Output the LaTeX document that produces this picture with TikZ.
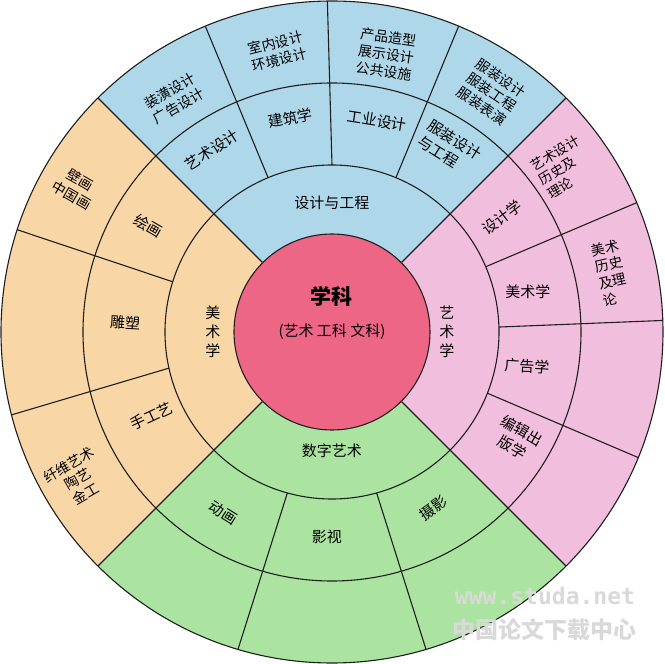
\documentclass[tikz,border=0pt]{standalone}
\usepackage{fontspec}
\newfontfamily\cjk{Noto Sans CJK SC}
\newfontfamily\wmono{DejaVu Sans Mono}
\definecolor{designblue}{RGB}{174,216,234}
\definecolor{fineorange}{RGB}{249,214,166}
\definecolor{artpink}{RGB}{242,190,222}
\definecolor{digitgreen}{RGB}{170,228,160}
\definecolor{corered}{RGB}{238,102,134}
\definecolor{inkline}{RGB}{30,30,30}
\begin{document}
\begin{tikzpicture}[x=1pt, y=1pt,
    ring/.style={inkline, line width=1.1pt},
    lbl/.style={font=\cjk\fontsize{14}{17}\selectfont, align=center, inner sep=0pt},
    midlbl/.style={font=\cjk\fontsize{15}{19}\selectfont, align=center, inner sep=0pt},
    wmark/.style={font=\cjk\bfseries\fontsize{23}{26}\selectfont, text=gray!30, inner sep=0pt}]
    \useasboundingbox (-332,-332) rectangle (333,332);
    % quadrants
    \fill[designblue] (0,0) -- (45:331) arc[start angle=45, end angle=135, radius=331] -- cycle;
    \fill[fineorange] (0,0) -- (135:331) arc[start angle=135, end angle=225, radius=331] -- cycle;
    \fill[digitgreen] (0,0) -- (225:331) arc[start angle=225, end angle=315, radius=331] -- cycle;
    \fill[artpink] (0,0) -- (-45:331) arc[start angle=-45, end angle=45, radius=331] -- cycle;
    % rings
    \draw[ring] (0,0) circle (331);
    \draw[ring] (0,0) circle (249);
    \draw[ring] (0,0) circle (167);
    \draw[ring] (45:98) -- (45:331);
    \draw[ring] (135:98) -- (135:331);
    \draw[ring] (225:98) -- (225:331);
    \draw[ring] (315:98) -- (315:331);
    % dividers
    \draw[ring] (67.5:167) -- (67.5:331);
    \draw[ring] (90:167) -- (90.8:331);
    \draw[ring] (112.5:167) -- (112.5:331);
    \draw[ring] (162.5:167) -- (162:331);
    \draw[ring] (192.5:167) -- (194.5:331);
    \draw[ring] (254.5:167) -- (253.5:331);
    \draw[ring] (285.5:167) -- (286.5:331);
    \draw[ring] (23:167) -- (23:331);
    \draw[ring] (1.7:167) -- (2:331);
    \draw[ring] (-21.5:167) -- (-22.3:331);
    % core
    \draw[ring, fill=corered] (0,0) circle (98);
    \node[font=\cjk\bfseries\fontsize{21}{24}\selectfont] (xueke) at (0,36) {学科};
    \node[midlbl] (sanke) at (0,0) {(艺术 工科 文科)};
    % inner ring
    \node[midlbl] (sheji) at (90:129) {设计与工程};
    \node[midlbl] (meishu) at (180:119) {美\\术\\学};
    \node[midlbl] (yishu) at (0:115) {艺\\术\\学};
    \node[midlbl] (shuzi) at (270:119) {数字艺术};
    % middle ring
    \node[midlbl, rotate=33] (yishusheji) at (123.4:218) {艺术设计};
    \node[midlbl, rotate=11] (jianzhu) at (101:218) {建筑学};
    \node[midlbl, rotate=-9] (gongye) at (78:216) {工业设计};
    \node[midlbl, rotate=-32, align=left] (fuzhuang) at (57.5:219) {服装设计\\与工程};
    \node[midlbl, rotate=-30] (huihua) at (150:212) {绘画};
    \node[midlbl, rotate=-3] (diaosu) at (177.5:207) {雕塑};
    \node[midlbl, rotate=25] (shougong) at (205:199) {手工艺};
    \node[midlbl, rotate=-32] (donghua) at (239:211) {动画};
    \node[midlbl] (yingshi) at (268.6:205) {影视};
    \node[midlbl, rotate=35] (sheying) at (300:203) {摄影};
    \node[midlbl, rotate=37] (shejixue) at (34:205) {设计学};
    \node[midlbl] (meishuxue) at (11.5:200) {美术学};
    \node[midlbl, rotate=-3] (guanggao) at (-10:198) {广告学};
    \node[midlbl, rotate=-30] (bianji) at (-30:214) {编辑出\\版学};
    % outer ring
    \node[lbl, rotate=30] (zhuanghuang) at (124:282) {装潢设计\\广告设计};
    \node[lbl, rotate=14] (shinei) at (101:286) {室内设计\\环境设计};
    \node[lbl, rotate=-8, align=left] (chanpin) at (79:283) {产品造型\\展示设计\\公共设施};
    \node[lbl, rotate=-34] (fuzhuangsj) at (56.4:288) {服装设计\\服装工程\\服装表演};
    \node[lbl, rotate=-30] (bihua) at (150.6:294) {壁画\\中国画};
    \node[lbl, rotate=30] (xianwei) at (210:294) {纤维艺术\\陶艺\\金工};
    \node[lbl, rotate=31, align=left, font=\cjk\fontsize{13.5}{16}\selectfont] (yishushi) at (35.5:284) {艺术设计\\历史及\\理论};
    \node[lbl, rotate=13, align=left] (meishushi) at (12:285) {美术\\历史\\及理\\论};
    % watermark
    \node[wmark, font=\wmono\bfseries\fontsize{23}{26}\selectfont] (wwwmark) at (213,-264) {www.studa.net};
    \node[wmark] (zhongguo) at (213,-298) {中国论文下载中心};
\end{tikzpicture}
\end{document}
